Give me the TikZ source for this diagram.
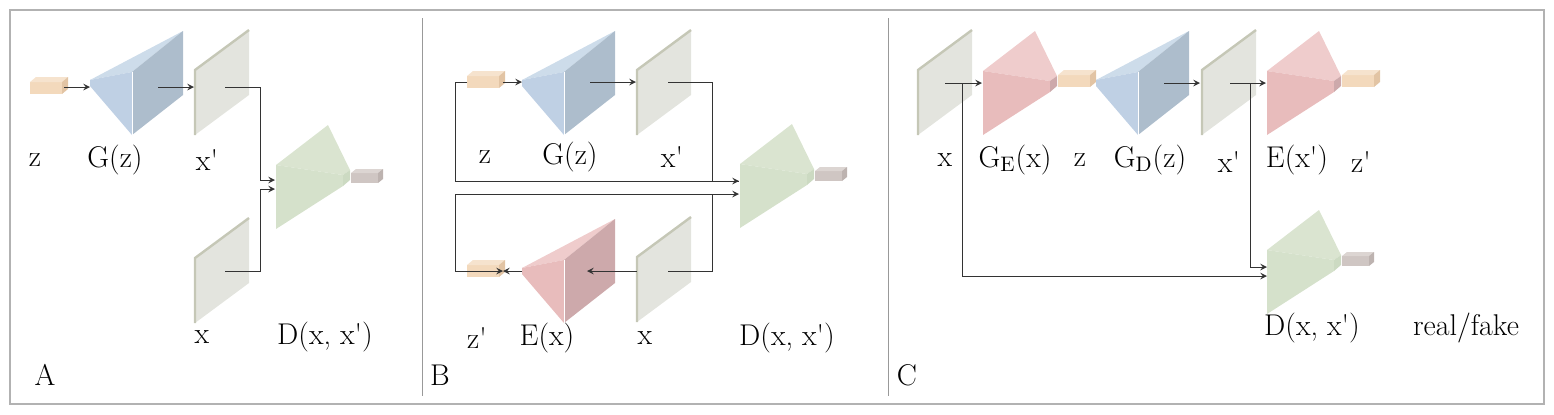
\documentclass[tikz,border=0pt]{standalone}
\usepackage{tikz}
\usetikzlibrary{arrows}
\definecolor{bluefr}{HTML}{BFD0E4}
\definecolor{bluetp}{HTML}{CDDCEA}
\definecolor{bluesd}{HTML}{ADBDCC}
\definecolor{redfr}{HTML}{E8BCBC}
\definecolor{redtp}{HTML}{EFCCCC}
\definecolor{redsd}{HTML}{CDA9AB}
\definecolor{grnfr}{HTML}{D5E1CB}
\definecolor{grntp}{HTML}{DAE4D0}
\definecolor{grnsd}{HTML}{CCDAC2}
\definecolor{imgfill}{HTML}{E3E4DE}
\definecolor{imgedge}{HTML}{C5C7B6}
\definecolor{latfr}{HTML}{F3D9BC}
\definecolor{lattp}{HTML}{F6E3CE}
\definecolor{latsd}{HTML}{E2C4A4}
\definecolor{outfr}{HTML}{CFC6C3}
\definecolor{outtp}{HTML}{DCD5D2}
\definecolor{outsd}{HTML}{BDB3B0}
\tikzset{
  lbl/.style={font=\fontsize{15}{17}\selectfont, inner sep=0pt},
  link/.style={line width=0.5pt, black!80},
  feed/.style={link, -stealth},
  pics/gen/.style n args={3}{code={
    \fill[#2] (0,0) -- (93,-49) -- (42,-8) -- cycle;
    \fill[#1] (0,0) -- (42,-8) -- (42,55) -- (0,6) -- cycle;
    \fill[#3] (42,-8) -- (93,-49) -- (93,15) -- (42,55) -- cycle;
    \draw[white, line width=0.3pt] (42,-8) -- (42,55);
  }},
  pics/disc/.style n args={3}{code={
    \fill[#2] (0,0) -- (52,-40) -- (74,5) -- (67,10) -- cycle;
    \fill[#1] (0,0) -- (67,10) -- (67,21) -- (0,64) -- cycle;
    \fill[#3] (67,10) -- (74,5) -- (74,15) -- (67,21) -- cycle;
  }},
  pics/img/.style={code={
    \fill[imgfill] (0,0) -- (54,-40) -- (54,25) -- (0,65) -- cycle;
    \draw[imgedge, line width=1.2pt] (0,65) -- (0,0) -- (54,-40);
  }},
  pics/lat/.style={code={
    \fill[latfr] (0,0) rectangle (32,12);
    \fill[lattp] (0,0) -- (6,-5) -- (38,-5) -- (32,0) -- cycle;
    \fill[latsd] (32,0) -- (38,-5) -- (38,7) -- (32,12) -- cycle;
  }},
  pics/out/.style={code={
    \fill[outfr] (0,0) rectangle (27,10);
    \fill[outtp] (0,0) -- (5,-4) -- (32,-4) -- (27,0) -- cycle;
    \fill[outsd] (27,0) -- (32,-4) -- (32,6) -- (27,10) -- cycle;
  }}
}
\begin{document}
\begin{tikzpicture}[x=0.5pt, y=-0.5pt]
    \useasboundingbox (0,0) rectangle (1554,414);
    % Frame
    \draw[black!30, line width=0.6pt] (10,10) rectangle (1544,404);
    \draw[black!40, line width=0.5pt] (422,18) -- (422,396);
    \draw[black!40, line width=0.5pt] (888,18) -- (888,396);
    %
    % Panel A
    \pic at (30,82) {lat};
    \pic at (90,80) {gen={bluefr}{bluetp}{bluesd}};
    \pic at (195,70) {img};
    \pic at (195,258) {img};
    \pic at (276,165) {disc={grnfr}{grntp}{grnsd}};
    \pic at (351,173) {out};
    \coordinate (zA) at (64,87);   \coordinate (gA) at (90,87);
    \coordinate (goA) at (158,87); \coordinate (xpA) at (194,87);
    \coordinate (xpoA) at (225,87); \coordinate (kA1) at (260,87);
    \coordinate (dA1) at (275,180);
    \coordinate (xoA) at (225,271); \coordinate (kA2) at (260,271);
    \coordinate (dA2) at (275,189);
    \draw[feed] (zA) -- (gA);
    \draw[feed] (goA) -- (xpA);
    \draw[feed] (xpoA) -- (kA1) |- (dA1);
    \draw[feed] (xoA) -- (kA2) |- (dA2);
    \node[lbl] (lzA) at (35,160) {z};
    \node[lbl] (lgA) at (115,160) {G(z)};
    \node[lbl] (lxpA) at (207,160) {x\textquotesingle};
    \node[lbl] (lxA) at (202,337) {x};
    \node[lbl] (ldA) at (325,337) {D(x, x\textquotesingle)};
    \node[lbl] (tagA) at (45,375) {A};
    %
    % Panel B
    \pic at (467,76) {lat};
    \pic at (522,80) {gen={bluefr}{bluetp}{bluesd}};
    \pic at (637,70) {img};
    \pic at (467,265) {lat};
    \pic at (522,268) {gen={redfr}{redtp}{redsd}};
    \pic at (637,257) {img};
    \pic at (740,164) {disc={grnfr}{grntp}{grnsd}};
    \pic at (815,171) {out};
    \coordinate (zB) at (503,82);   \coordinate (gB) at (522,82);
    \coordinate (goB) at (590,82);  \coordinate (xpB) at (636,82);
    \coordinate (xpoB) at (668,82); \coordinate (kB1) at (712,181);
    \coordinate (zlB) at (467,82);  \coordinate (kB0) at (455,181);
    \coordinate (dB1) at (739,181);
    \coordinate (xoB) at (668,271); \coordinate (kB2) at (712,194);
    \coordinate (kB3) at (455,194); \coordinate (dB2) at (739,194);
    \coordinate (xlB) at (637,271); \coordinate (eiB) at (587,271);
    \coordinate (eoB) at (522,271); \coordinate (zpB) at (503,271);
    \draw[feed] (zB) -- (gB);
    \draw[feed] (goB) -- (xpB);
    \draw[link] (zlB) -| (kB0) -- (dB1);
    \draw[link] (xpoB) -| (kB1);
    \draw[feed] (dB1) ++(-1,0) -- (dB1);
    \draw[link] (xoB) -| (kB2) -- (kB3);
    \draw[feed] (kB3) |- (zpB);
    \draw[feed] (kB2) -- (dB2);
    \draw[feed] (xlB) -- (eiB);
    \draw[feed] (eoB) -- (zpB);
    \node[lbl] (lzB) at (485,157) {z};
    \node[lbl] (lgB) at (570,157) {G(z)};
    \node[lbl] (lxpB) at (672,157) {x\textquotesingle};
    \node[lbl] (lzpB) at (477,338) {z\textquotesingle};
    \node[lbl] (leB) at (547,338) {E(x)};
    \node[lbl] (lxB) at (645,338) {x};
    \node[lbl] (ldB) at (787,338) {D(x, x\textquotesingle)};
    \node[lbl] (tagB) at (440,375) {B};
    %
    % Panel C
    \pic at (918,70) {img};
    \pic at (983,71) {disc={redfr}{redtp}{redsd}};
    \pic at (1058,75) {lat};
    \pic at (1096,80) {gen={bluefr}{bluetp}{bluesd}};
    \pic at (1202,70) {img};
    \pic at (1267,71) {disc={redfr}{redtp}{redsd}};
    \pic at (1342,75) {lat};
    \pic at (1267,250) {disc={grnfr}{grntp}{grnsd}};
    \pic at (1342,256) {out};
    \coordinate (xoC) at (945,83);   \coordinate (geC) at (982,83);
    \coordinate (kC1) at (962,83);   \coordinate (dC2) at (1267,276);
    \coordinate (gdoC) at (1164,83); \coordinate (xpC) at (1200,83);
    \coordinate (xpoC) at (1230,83); \coordinate (eC) at (1266,83);
    \coordinate (kC2) at (1250,83);  \coordinate (dC1) at (1267,267);
    \draw[feed] (xoC) -- (geC);
    \draw[feed] (kC1) |- (dC2);
    \draw[feed] (gdoC) -- (xpC);
    \draw[feed] (xpoC) -- (eC);
    \draw[feed] (kC2) |- (dC1);
    \node[lbl] (lxC) at (945,160) {x};
    \node[lbl] (lgeC) at (1015,160) {G\textsubscript{E}(x)};
    \node[lbl] (lzC) at (1080,160) {z};
    \node[lbl] (lgdC) at (1150,160) {G\textsubscript{D}(z)};
    \node[lbl] (lxpC) at (1229,162) {x\textquotesingle};
    \node[lbl] (leC) at (1297,160) {E(x\textquotesingle)};
    \node[lbl] (lzpC) at (1361,162) {z\textquotesingle};
    \node[lbl] (ldC) at (1312,328) {D(x, x\textquotesingle)};
    \node[lbl] (lrfC) at (1466,328) {real/fake};
    \node[lbl] (tagC) at (907,375) {C};
\end{tikzpicture}
\end{document}
